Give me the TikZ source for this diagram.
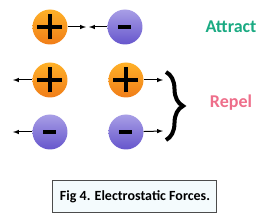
\documentclass[tikz,border=0pt]{standalone}
\usepackage{fontspec}
\setmainfont{Carlito}
\usetikzlibrary{arrows,decorations.pathreplacing}

\definecolor{orangeTop}{HTML}{FFB128}
\definecolor{orangeBot}{HTML}{F07D18}
\definecolor{violetTop}{HTML}{A89EE6}
\definecolor{violetBot}{HTML}{6656CC}
\definecolor{vertAttr}{HTML}{1AAA82}
\definecolor{roseRep}{HTML}{EE6E8A}
\definecolor{fondLeg}{HTML}{F4FBFD}

\tikzset{
  charge/.style={circle,minimum size=35pt,inner sep=0pt,
    shading=axis,shading angle=135},
  poscharge/.style={charge,top color=orangeTop,bottom color=orangeBot,
    path picture={
      \draw[line width=3.8pt]
      ([xshift=-12.5pt]path picture bounding box.center)
      --
      ([xshift=12.5pt]path picture bounding box.center);
      \draw[line width=3.8pt]
      ([yshift=-12.5pt]path picture bounding box.center)
      --
      ([yshift=12.5pt]path picture bounding box.center);}},
  negcharge/.style={charge,top color=violetTop,bottom color=violetBot,
    path picture={
      \draw[line width=4pt]
      ([xshift=-6.5pt]path picture bounding box.center)
      --
      ([xshift=6.5pt]path picture bounding box.center);}},
  force/.style={-latex,line width=1pt},
  mot/.style={font=\fontsize{18}{20}\selectfont\bfseries}
}

\begin{document}
\begin{tikzpicture}[x=1pt,y=-1pt]

\useasboundingbox (0,0) rectangle (269,222);

% Attraction
\node[poscharge] (p1) at (50,27) {};
\node[negcharge] (m1) at (125,27) {};
\coordinate (a1) at (86,27);
\coordinate (a2) at (89,27);

\draw[force]
(p1)
--
(a1);

\draw[force]
(m1)
--
(a2);

\node[mot,text=vertAttr] (attr) at (231,27) {Attract};

% Repulsion
\node[poscharge] (p2) at (50,80) {};
\node[poscharge] (p3) at (126,80) {};
\node[negcharge] (m2) at (50,132) {};
\node[negcharge] (m3) at (126,132) {};

\coordinate (r1) at (13,80);
\coordinate (r2) at (163,80);
\coordinate (r3) at (13,132);
\coordinate (r4) at (163,131);

\draw[force]
(p2)
--
(r1);

\draw[force]
(p3)
--
(r2);

\draw[force]
(m2)
--
(r3);

\draw[force]
(m3)
--
(r4);

% Accolade
\draw[line width=4pt,
decorate,decoration={brace,amplitude=17pt}]
(166,72)
--
(166,140);

\node[mot,text=roseRep] (rep) at (231,103) {Repel};

% Legende
\node[draw=black!70,line width=1pt,fill=fondLeg,
minimum width=164pt,minimum height=32pt,
font=\fontsize{14}{16}\selectfont\bfseries]
(leg) at (135,197)
{Fig 4. Electrostatic Forces.};

\end{tikzpicture}
\end{document}
